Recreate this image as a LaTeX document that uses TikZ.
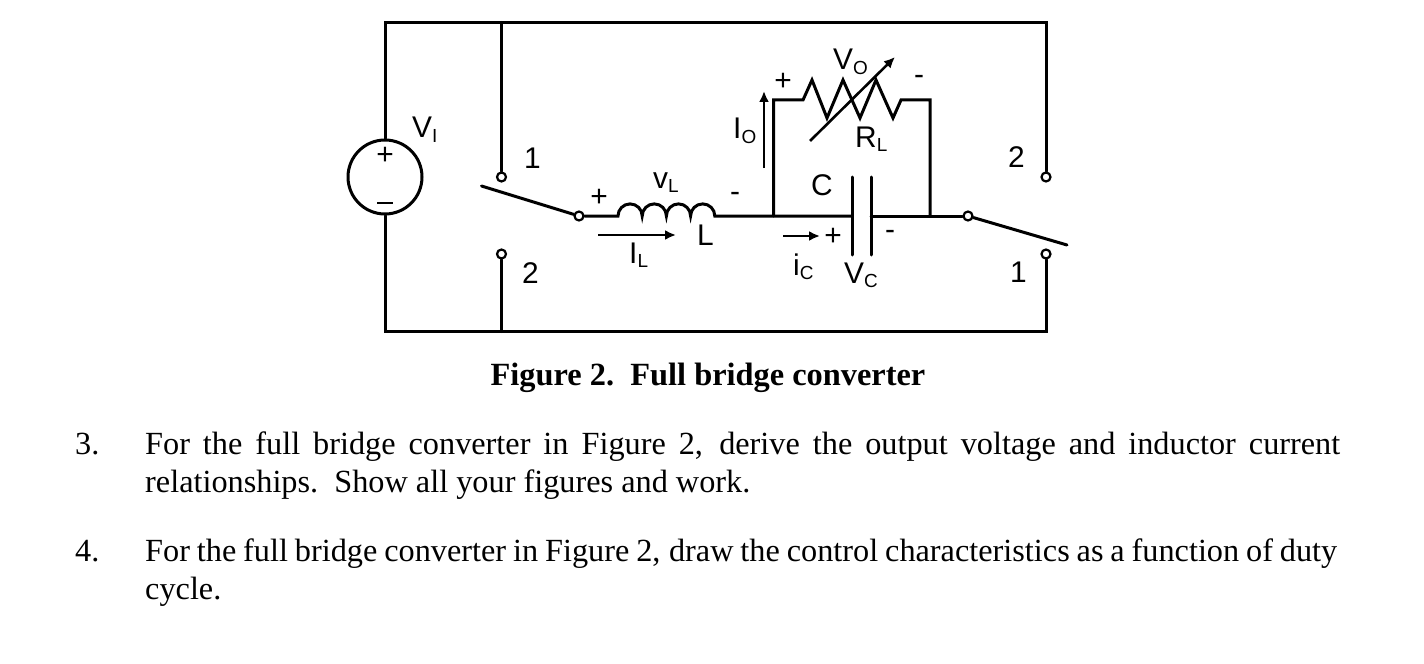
\documentclass[tikz,border=0pt]{standalone}
\usepackage{fontspec}
\setmainfont{Liberation Serif}
\newfontfamily\hv{Liberation Sans}
\usetikzlibrary{arrows.meta}
\newcommand{\lbl}[2]{#1\raisebox{-4.5bp}{\fontsize{19}{19}\selectfont #2}}
\newcommand{\fitline}[2]{\hbox to #1{\spaceskip=0pt plus 1fil\xspaceskip=0pt plus 1fil #2}}
\tikzset{
  wire/.style={line width=3bp,line join=miter,line cap=round},
  term/.style={circle,draw,line width=2.2bp,minimum size=9bp,inner sep=0pt,fill=white},
  arr/.style={line width=2.6bp,-{Latex[length=11bp,width=10bp]}},
  lab/.style={anchor=base west,inner sep=0pt,font=\hv\fontsize{30}{30}\selectfont},
  sign/.style={anchor=center,inner sep=0pt,font=\hv\fontsize{30}{30}\selectfont},
  body/.style={anchor=base west,inner sep=0pt,font=\fontsize{32.4}{32.4}\selectfont},
}
\begin{document}
\begin{tikzpicture}[x=1bp,y=-1bp]
\useasboundingbox (0,0) rectangle (1424,664);
\fill[white] (0,0) rectangle (1424,664);
% corners and junctions
\coordinate (tl) at (385,22.5);
\coordinate (tr) at (1046,22.5);
\coordinate (bl) at (385,331.5);
\coordinate (br) at (1046,331.5);
\coordinate (tm) at (501.5,22.5);
\coordinate (bm) at (501.5,331.5);
\coordinate (ls) at (481.5,186);
\coordinate (rs) at (1067,245);
\coordinate (ja) at (773.5,216);
\coordinate (jb) at (930,216);
\coordinate (ra) at (773.5,100);
\coordinate (rb) at (930,100);
\coordinate (ia) at (618,216);
\coordinate (ib) at (715,216);
\coordinate (ca) at (852,216);
\coordinate (cb) at (871,216);
% source and terminals
\node[circle,draw,line width=3bp,minimum size=74bp,inner sep=0pt] (src) at (385,177) {};
\node[term] (t1) at (501.5,177) {};
\node[term] (t2) at (501.5,254) {};
\node[term] (tc) at (579,216) {};
\node[term] (td) at (968,216) {};
\node[term] (t3) at (1046,177) {};
\node[term] (t4) at (1046,254) {};
% outer wires
\draw[wire] (src) -- (tl) -- (tr) -- (t3);
\draw[wire] (src) -- (bl) -- (br) -- (t4);
\draw[wire] (tm) -- (t1);
\draw[wire] (bm) -- (t2);
% switches
\draw[wire] (ls) -- (tc);
\draw[wire] (td) -- (rs);
% inductor
\draw[wire] (tc) -- (ia)
  arc[start angle=180,end angle=360,radius=12.1]
  arc[start angle=180,end angle=360,radius=12.1]
  arc[start angle=180,end angle=360,radius=12.1]
  arc[start angle=180,end angle=360,radius=12.1] -- (ib) -- (ca);
% capacitor
\draw[wire] (cb) -- (td);
\draw[wire] (852,177) -- (852,255);
\draw[wire] (871,177) -- (871,255);
% resistor
\draw[wire] (ja) -- (ra) -- (803,100) -- (812,80) -- (827,118) -- (843,80) -- (860,118) -- (876,80) -- (893,118) -- (901,100) -- (rb) -- (jb);
\coordinate (va) at (810,141);
\coordinate (vb) at (895,57);
\draw[arr] (va) -- (vb);
% current arrows
\coordinate (ila) at (598,235);
\coordinate (ilb) at (676,235);
\draw[arr] (ila) -- (ilb);
\coordinate (ioa) at (764,168);
\coordinate (iob) at (764,91);
\draw[arr] (ioa) -- (iob);
\coordinate (ica) at (783,236);
\coordinate (icb) at (820,236);
\draw[arr] (ica) -- (icb);
% labels
\node[sign] (splus) at (385,156) {+};
\node[sign] (sminus) at (385,203) {\rule{16bp}{2.6bp}};
\node[lab] (vi) at (412,138) {\lbl{V}{I}};
\node[lab] (n1) at (524,168) {1};
\node[lab] (n2) at (522,283) {2};
\node[sign] (p1) at (599,198) {+};
\node[lab] (vl) at (653,188) {\lbl{v}{L}};
\node[sign] (m1) at (735,197) {-};
\node[lab] (ll) at (697,245) {L};
\node[lab] (il) at (629,263) {\lbl{I}{L}};
\node[lab] (io) at (733,139) {\lbl{I}{O}};
\node[lab] (vo) at (833,70) {\lbl{V}{O}};
\node[sign] (p2) at (783,82) {+};
\node[sign] (m2) at (919,80) {-};
\node[lab] (rl) at (855,147) {\lbl{R}{L}};
\node[lab] (cc) at (811,195) {C};
\node[sign] (p3) at (833,237) {+};
\node[sign] (m3) at (890,235) {-};
\node[lab] (ic) at (793,275) {\lbl{i}{C}};
\node[lab] (vc) at (844,283) {\lbl{V}{C}};
\node[lab] (n3) at (1008,167) {2};
\node[lab] (n4) at (1010,282) {1};
% caption and body
\node[anchor=base,inner sep=0pt,font=\bfseries\fontsize{32.5}{32.5}\selectfont] (cap) at (708,385) {Figure 2.\ \ Full bridge converter};
\node[body] (q3) at (75,454) {3.};
\node[body] (q3a) at (145,454) {\fitline{1195bp}{For the full bridge converter in Figure 2, derive the output voltage and inductor current}};
\node[body] (q3b) at (145,492.5) {relationships.\ \ Show all your figures and work.};
\node[body] (q4) at (75,561) {4.};
\node[body] (q4a) at (145,561) {\fitline{1192bp}{For the full bridge converter in Figure 2, draw the control characteristics as a function of duty}};
\node[body] (q4b) at (145,599.5) {cycle.};
\end{tikzpicture}
\end{document}
